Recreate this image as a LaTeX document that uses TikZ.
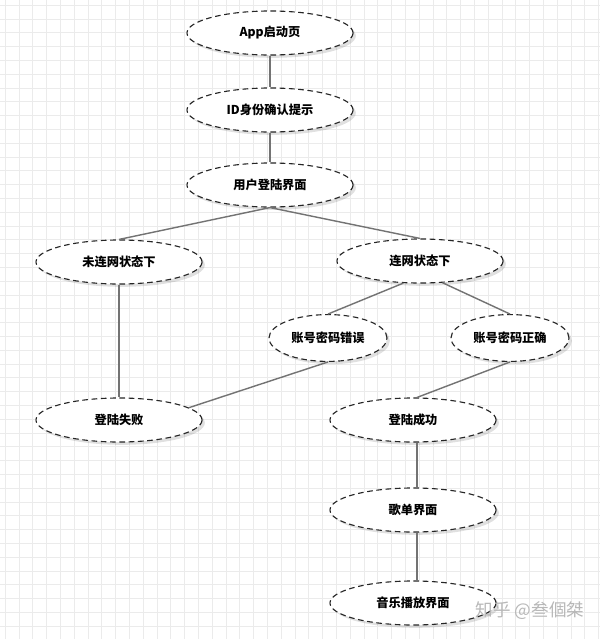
\documentclass[tikz,border=0pt]{standalone}
\usepackage{fontspec}
\newfontfamily\cjk{Noto Sans CJK SC}
\usetikzlibrary{shapes.geometric}
\usetikzlibrary{shadows}

\tikzset{
  usecase/.style={ellipse, draw=black!85, line width=0.8pt, dash pattern=on 4pt off 2.6pt,
    fill=white, minimum width=4.15cm, minimum height=1.1cm, inner sep=0pt,
    font=\cjk\bfseries\fontsize{8.7}{10}\selectfont,
    drop shadow={shadow xshift=2pt, shadow yshift=-2pt, opacity=0.12, fill=black}},
  smallcase/.style={usecase, minimum width=2.95cm, minimum height=1.17cm},
  link/.style={draw=black!55, line width=1pt},
  gridline/.style={draw=black!8, line width=0.4pt},
  watermarktext/.style={text=black!28, font=\cjk\fontsize{12.5}{14}\selectfont, inner sep=0pt},
}

\begin{document}
\begin{tikzpicture}[x=0.025cm, y=-0.025cm]
    \fill[white] (0,0) rectangle (600,639);
    \useasboundingbox (0,0) rectangle (600,639);

    % background grid
    \foreach \k in {0,...,43} {
      \draw[gridline] ({5+13.8*\k},0) -- ({5+13.8*\k},639);
    }
    \foreach \k in {0,...,45} {
      \draw[gridline] (0,{5+13.8*\k}) -- (600,{5+13.8*\k});
    }

    \node[usecase] (app) at (270, 33) {App启动页};
    \node[usecase] (idcheck) at (270, 110) {ID身份确认提示};
    \node[usecase] (login) at (270, 185) {用户登陆界面};
    \node[usecase] (offline) at (119, 262) {未连网状态下};
    \node[usecase] (online) at (420, 261) {连网状态下};
    \node[smallcase] (wrongpw) at (328, 338) {账号密码错误};
    \node[smallcase] (rightpw) at (510, 338) {账号密码正确};
    \node[usecase] (fail) at (119, 420) {登陆失败};
    \node[usecase] (success) at (413, 420) {登陆成功};
    \node[usecase] (playlist) at (413, 510) {歌单界面};
    \node[usecase] (player) at (413, 603) {音乐播放界面};

    \draw[link] (app.south) -- (idcheck.north);
    \draw[link] (idcheck.south) -- (login.north);
    \draw[link] (login.south) -- (offline.north);
    \draw[link] (login.south) -- (online.north);
    \draw[link] (offline.south) -- (fail.north);
    \draw[link] (online.233) -- (wrongpw.north);
    \draw[link] (online.-44) -- (rightpw.north);
    \draw[link] (wrongpw.south) -- (fail.10);
    \draw[link] (rightpw.south) -- (success.80);
    \draw[link] (success.-80) -- (playlist.80);
    \draw[link] (playlist.-80) -- (player.80);

    \node[watermarktext] (zhihu) at (530, 611) {知乎 @叁個桀};
\end{tikzpicture}
\end{document}
